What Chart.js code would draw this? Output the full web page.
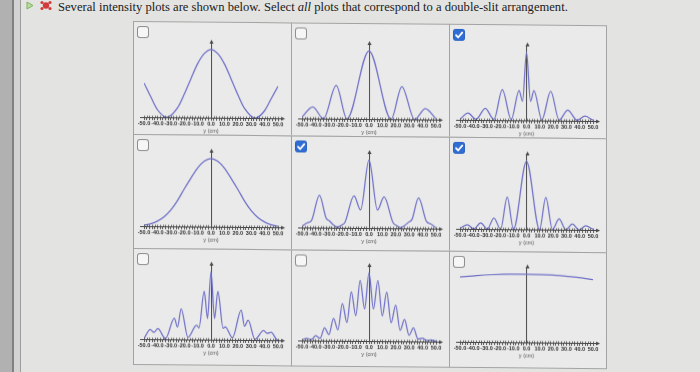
<!DOCTYPE html>
<html><head><meta charset="utf-8">
<script src="https://cdn.jsdelivr.net/npm/chart.js@4.4.1/dist/chart.umd.min.js"></script>
<style>
html,body{margin:0;padding:0;}
body{width:700px;height:372px;overflow:hidden;background:#e3e4e2;position:relative;font-family:'Liberation Sans',sans-serif;}
.strip{position:absolute;top:0;height:372px;}
#grid{position:absolute;left:0;top:0;width:700px;height:372px;transform:skewY(0.5deg);transform-origin:133px 21px;}
.cell{position:absolute;box-sizing:border-box;border:1px solid #a2a3a2;background:#e9eae9;}
.plot{position:absolute;}
.cb{position:absolute;width:12px;height:12px;box-sizing:border-box;border-radius:3px;border:1.5px solid #8e8e8e;background:#f6f6f6;z-index:5;}
.cb.on{background:#2f6cd3;border-color:#2a63c4;}
.cb svg{position:absolute;left:-1.5px;top:-1.5px;}
#title{position:absolute;left:58px;top:0;font-family:'Liberation Serif',serif;font-size:12.6px;line-height:14px;color:#202020;white-space:nowrap;}
</style></head><body>
<div class="strip" style="left:0;width:12px;background:#b0b1b0"></div>
<div class="strip" style="left:12px;width:2px;background:#808180"></div>
<div class="strip" style="left:14px;width:6px;background:#d2d3d2"></div>
<div class="strip" style="left:20px;width:1px;background:#9c9d9c"></div>
<svg style="position:absolute;left:26px;top:1px" width="8" height="9"><polygon points="1,1 7,4.5 1,8" fill="#b9dca0" stroke="#7fb35e" stroke-width="1"/></svg>
<svg style="position:absolute;left:39px;top:0" width="14" height="11"><circle cx="7" cy="5.5" r="3.2" fill="#d23a3a"/><circle cx="3" cy="2.5" r="1.6" fill="#d23a3a"/><circle cx="11" cy="2.5" r="1.6" fill="#d23a3a"/><circle cx="3" cy="8.5" r="1.6" fill="#d23a3a"/><circle cx="11" cy="8.5" r="1.6" fill="#d23a3a"/></svg>
<div id="title">Several intensity plots are shown below. Select <i>all</i> plots that correspond to a double-slit arrangement.</div>
<div id="grid"></div>
<script>
// ---- data ----
const tickValues = [-50,-40,-30,-20,-10,0,10,20,30,40,50];
const tickLabels = ['-50.0','-40.0','-30.0','-20.0','-10.0','0.0','10.0','20.0','30.0','40.0','50.0'];
const axisTitle = 'y (cm)';
const checked = [false,false,true,false,true,true,false,false,false];

const p1x = [-50,-45,-40,-33,-25,-20,-15,-10,-5,0,5,10,15,20,25,33,40,45,50];
const p1y = [0.50,0.30,0.11,0,0.14,0.34,0.57,0.79,0.94,1,0.94,0.79,0.57,0.34,0.14,0,0.11,0.29,0.47];

const p2x = [-50,-42,-34,-24.5,-16.5,0,16.5,24.5,34,42,50];
const p2y = [0.02,0.17,0,0.49,0,1,0,0.48,0,0.16,0.01];

const p3x = [-50,-44,-38,-31,-24.5,-18.2,-11.5,-5.6,-3,0,3,5.6,11.5,18.2,24.5,31,38,44,50];
const p3y = [0.01,0.10,0.01,0.17,0.01,0.45,0.01,0.44,0.28,1.0,0.28,0.44,0.01,0.43,0.01,0.155,0.01,0.07,0.01];

const p4x = [-50,-45,-40,-35,-30,-25,-20,-15,-10,-5,0,5,10,15,20,25,30,35,40,45,50];
const p4y = [0.012,0.035,0.075,0.14,0.24,0.38,0.55,0.71,0.86,0.96,1,0.96,0.86,0.71,0.55,0.38,0.24,0.14,0.075,0.035,0.012];

const p5x = [-50,-46,-43,-37,-32,-29.5,-26.5,-23.5,-20.5,-18,-11.2,-6.3,0,6.3,11.2,18,20.5,23.5,26.5,29.5,32,37,43,46,50];
const p5y = [0.02,0.07,0.10,0.475,0.14,0.10,0.04,0.01,0.04,0.08,0.47,0.265,1.0,0.265,0.46,0.08,0.04,0.01,0.04,0.09,0.13,0.45,0.10,0.07,0.01];

const p6x = [-50,-44.5,-39.5,-34.5,-29.5,-24.5,-19.5,-14.5,-9.8,0,9.8,14.5,19.5,24.5,29.5,34.5,39.5,44.5,50];
const p6y = [0.01,0.06,0,0.09,0,0.165,0,0.47,0,1.0,0,0.47,0,0.16,0,0.085,0,0.06,0.01];

const p7x = [-50,-45.4,-42.6,-39.7,-34,-27.4,-25,-22.3,-17.2,-10.8,-9,-5.1,-2.6,0,2.6,5.1,9,10.6,16,22.5,25,27.7,32.8,39.2,42,44.9,49,50];
const p7y = [0.01,0.14,0.10,0.156,0.01,0.31,0.18,0.45,0.03,0.21,0.17,0.71,0.31,1.0,0.31,0.71,0.17,0.19,0.03,0.44,0.20,0.29,0.01,0.14,0.10,0.115,0.01,0.005];

const p8x = [-50,-46.4,-43.1,-39.8,-36.5,-33.2,-29.9,-26.5,-23.2,-19.9,-16.5,-13.2,-9.9,-6.6,-3.3,0,3.3,6.6,9.9,13.2,16.5,19.9,23.2,26.5,29.9,33.2,36.5,39.8,43.1,46.4,50];
const p8y = [0.01,0.03,0.015,0.07,0.035,0.19,0.09,0.33,0.16,0.55,0.27,0.72,0.37,0.89,0.47,1.0,0.47,0.89,0.37,0.72,0.27,0.53,0.16,0.32,0.09,0.20,0.035,0.05,0.015,0.025,0.005];

const p9x = [-50,-37.5,-25,-12.5,0,12.5,25,37.5,50];
const p9y = [0.95,0.975,0.99,0.998,1.0,0.997,0.985,0.962,0.93];

const plotsX = [p1x,p2x,p3x,p4x,p5x,p6x,p7x,p8x,p9x];
const plotsY = [p1y,p2y,p3y,p4y,p5y,p6y,p7y,p8y,p9y];

// ---- layout ----
const colX = [133, 291, 449, 606];
const rowY = [21, 134, 248, 364];
const axisRel = [95, 91, 90];
const grid = document.getElementById('grid');

const axisPlugin = {
  id: 'axisDeco',
  afterDraw(chart) {
    const {ctx, chartArea, scales} = chart;
    const xs = scales.x, ys = scales.y;
    const x0 = xs.getPixelForValue(0);
    const yb = ys.getPixelForValue(0);
    ctx.save();
    ctx.strokeStyle = '#484848';
    ctx.fillStyle = '#484848';
    ctx.lineWidth = 1;
    ctx.beginPath();
    ctx.moveTo(chartArea.left - 4, yb + 0.5); ctx.lineTo(chartArea.right + 4, yb + 0.5);
    ctx.stroke();
    ctx.lineWidth = 0.8;
    ctx.beginPath();
    xs.ticks.forEach(t => { const px = Math.round(xs.getPixelForValue(t.value)) + 0.5; ctx.moveTo(px, yb - 1.5); ctx.lineTo(px, yb); });
    ctx.stroke();
    ctx.beginPath();
    ctx.moveTo(chartArea.right + 7, yb + 0.5); ctx.lineTo(chartArea.right + 3, yb - 1.5); ctx.lineTo(chartArea.right + 3, yb + 2.5); ctx.closePath(); ctx.fill();
    ctx.beginPath();
    const xa = Math.round(x0) + 0.5;
    ctx.moveTo(xa, chartArea.top - 3); ctx.lineTo(xa - 2, chartArea.top + 1); ctx.lineTo(xa + 2, chartArea.top + 1); ctx.closePath(); ctx.fill();
    ctx.restore();
  }
};

function makeChart(canvas, xs, ys, row) {
  const H = canvas.height;
  const aRel = axisRel[row];
  const xh = Math.min(17, H - aRel);
  return new Chart(canvas, {
    type: 'line',
    data: { datasets: [{ data: xs.map((x, i) => ({x: x, y: ys[i]})), borderColor: '#7070c8', borderWidth: 1.25, pointRadius: 0, cubicInterpolationMode: 'monotone', fill: false }] },
    options: {
      responsive: false, animation: false, events: [],
      layout: { padding: { top: aRel - 75, left: 10, right: 13, bottom: H - aRel - xh } },
      plugins: { legend: { display: false }, tooltip: { enabled: false } },
      scales: {
        x: {
          type: 'linear', min: -50, max: 50, position: 'bottom',
          afterFit: s => { s.height = xh; },
          ticks: {
            stepSize: 2, autoSkip: false, maxRotation: 0, minRotation: 0, padding: 0,
            font: { size: 5.5, weight: 'bold', family: 'Liberation Sans' }, color: '#2e2e2e',
            callback: v => { const r = Math.round(v); const i = tickValues.indexOf(r); return (i >= 0 && Math.abs(v - r) < 1e-6) ? tickLabels[i] : ''; }
          },
          grid: { drawOnChartArea: false, tickLength: 3, color: '#4a4a4a', lineWidth: 0.9 },
          border: { display: true, color: '#484848', width: 1 },
          title: { display: true, text: axisTitle, font: { size: 5.5, family: 'Liberation Sans' }, color: '#555', padding: { top: 0, bottom: 0 } }
        },
        y: {
          type: 'linear', min: 0, max: 1.1, position: { x: 0 },
          afterFit: s => { s.width = 0; },
          ticks: { display: false },
          grid: { display: false, drawTicks: false },
          border: { display: true, color: '#484848', width: 1 }
        }
      }
    },
    plugins: [axisPlugin]
  });
}

for (let r = 0; r < 3; r++) {
  for (let c = 0; c < 3; c++) {
    const k = r * 3 + c;
    const cell = document.createElement('div');
    cell.className = 'cell';
    cell.style.left = colX[c] + 'px';
    cell.style.top = rowY[r] + 'px';
    cell.style.width = (colX[c + 1] - colX[c] + 1) + 'px';
    cell.style.height = (rowY[r + 1] - rowY[r] + 1) + 'px';
    grid.appendChild(cell);

    const cv = document.createElement('canvas');
    cv.className = 'plot';
    cv.width = colX[c + 1] - colX[c] - 1;
    cv.height = rowY[r + 1] - rowY[r] - 1;
    cv.style.left = (colX[c] + 1) + 'px';
    cv.style.top = (rowY[r] + 1) + 'px';
    cv.style.width = cv.width + 'px';
    cv.style.height = cv.height + 'px';
    grid.appendChild(cv);
    makeChart(cv, plotsX[k], plotsY[k], r);

    const cb = document.createElement('div');
    cb.className = 'cb' + (checked[k] ? ' on' : '');
    cb.style.left = (colX[c] + 4) + 'px';
    cb.style.top = (rowY[r] + 5) + 'px';
    if (checked[k]) cb.innerHTML = '<svg width="12" height="12"><polyline points="3,6.3 5.2,8.5 9.3,3.6" fill="none" stroke="#fff" stroke-width="1.8" stroke-linecap="round" stroke-linejoin="round"/></svg>';
    grid.appendChild(cb);
  }
}
</script>
</body></html>
